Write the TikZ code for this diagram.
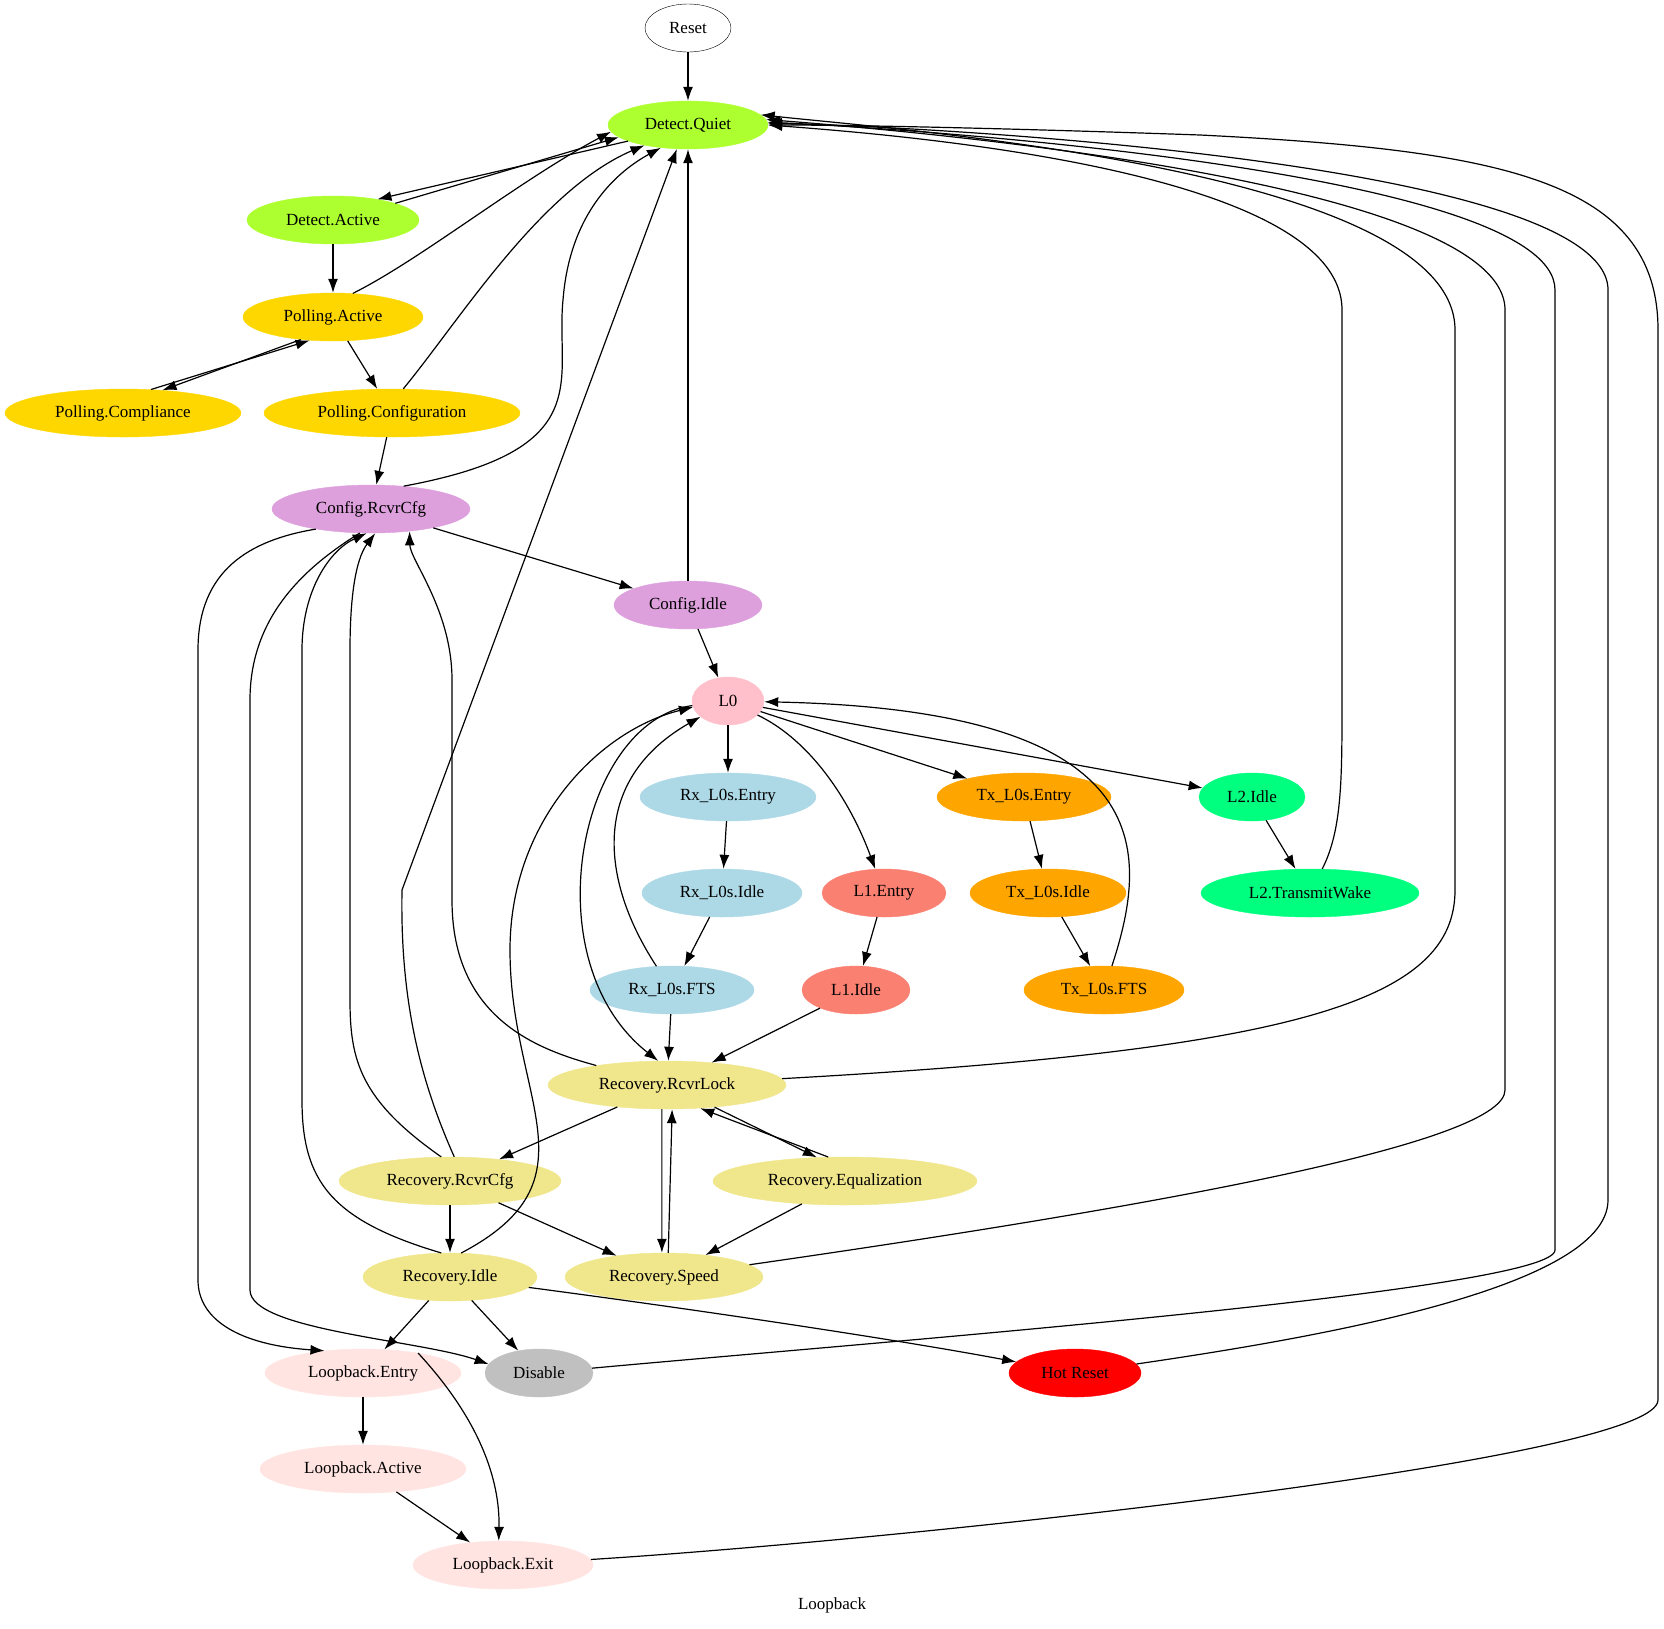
\documentclass[tikz,border=0pt]{standalone}
\usepackage{fontspec}
\setmainfont{Liberation Serif}
\usetikzlibrary{shapes.geometric,arrows.meta}
\definecolor{gy}{HTML}{ADFF2F}
\definecolor{gold}{HTML}{FFD700}
\definecolor{plum}{HTML}{DDA0DD}
\definecolor{pinkc}{HTML}{FFC0CB}
\definecolor{lblue}{HTML}{ADD8E6}
\definecolor{salm}{HTML}{FA8072}
\definecolor{orng}{HTML}{FFA500}
\definecolor{sprg}{HTML}{00FF7F}
\definecolor{khak}{HTML}{F0E68C}
\definecolor{misty}{HTML}{FFE4E1}
\definecolor{grayc}{HTML}{C0C0C0}
\begin{document}
\begin{tikzpicture}[x=1pt,y=-1pt,
  n/.style 2 args={ellipse,draw=#1,fill=#1,minimum width=#2pt,minimum height=48pt,inner sep=0pt,font=\fontsize{17}{20}\selectfont},
  e/.style={-{Latex[length=14pt,width=10pt]},line width=1.2pt}]
\useasboundingbox (0,0) rectangle (1664,1628);
\node[n={white}{86},draw=black] (R) at (688,28) {Reset};
\node[n={gy}{160}] (DQ) at (688,125) {Detect.Quiet};
\node[n={gy}{172}] (DA) at (333,220) {Detect.Active};
\node[n={gold}{180}] (PA) at (333,317) {Polling.Active};
\node[n={gold}{236}] (PC) at (123,413) {Polling.Compliance};
\node[n={gold}{256}] (PF) at (392,413) {Polling.Configuration};
\node[n={plum}{198}] (CR) at (371,509) {Config.RcvrCfg};
\node[n={plum}{148}] (CI) at (688,605) {Config.Idle};
\node[n={pinkc}{72}] (L0) at (728,701) {L0};
\node[n={lblue}{176}] (RxE) at (728,797) {Rx\_L0s.Entry};
\node[n={lblue}{160}] (RxI) at (722,893) {Rx\_L0s.Idle};
\node[n={lblue}{164}] (RxF) at (672,990) {Rx\_L0s.FTS};
\node[n={salm}{124}] (L1E) at (884,893) {L1.Entry};
\node[n={salm}{108}] (L1I) at (856,990) {L1.Idle};
\node[n={orng}{174}] (TxE) at (1024,797) {Tx\_L0s.Entry};
\node[n={orng}{156}] (TxI) at (1048,893) {Tx\_L0s.Idle};
\node[n={orng}{160}] (TxF) at (1104,990) {Tx\_L0s.FTS};
\node[n={sprg}{106}] (L2I) at (1252,797) {L2.Idle};
\node[n={sprg}{218}] (L2W) at (1310,893) {L2.TransmitWake};
\node[n={khak}{238}] (RRL) at (667,1085) {Recovery.RcvrLock};
\node[n={khak}{222}] (RRC) at (450,1181) {Recovery.RcvrCfg};
\node[n={khak}{264}] (RE) at (845,1181) {Recovery.Equalization};
\node[n={khak}{174}] (RI) at (450,1277) {Recovery.Idle};
\node[n={khak}{198}] (RS) at (664,1277) {Recovery.Speed};
\node[n={misty}{196}] (LE) at (363,1373) {Loopback.Entry};
\node[n={grayc}{108}] (DI) at (539,1373) {Disable};
\node[n={red}{132}] (HR) at (1075,1373) {Hot Reset};
\node[n={misty}{206}] (LA) at (363,1469) {Loopback.Active};
\node[n={misty}{180}] (LX) at (503,1565) {Loopback.Exit};
\node[font=\fontsize{17}{20}\selectfont] (cap) at (832,1605) {Loopback};

\draw[e] (R) -- (DQ);
\draw[e] (DQ.195) -- (DA.25);
\draw[e] (DA.15) -- (DQ.190);
\draw[e] (DA) -- (PA);
\draw[e] (PA.50) .. controls (420,260) and (520,180) .. (DQ.185);
\draw[e] (PA.215) -- (PC.30);
\draw[e] (PC.40) -- (PA.225);
\draw[e] (PA) -- (PF);
\draw[e] (PF.65) .. controls (460,320) and (540,190) .. (DQ.205);
\draw[e] (PF) -- (CR);
\draw[e] (CR.35) .. controls (600,450) and (555,380) .. (563,300) .. controls (570,210) and (620,170) .. (DQ.220);
\draw[e] (CR) -- (CI);
\draw[e] (CI) -- (DQ);
\draw[e] (CI) -- (L0);
\draw[e] (L0) -- (RxE);
\draw[e] (L0) .. controls (810,740) and (850,800) .. (L1E);
\draw[e] (L0) -- (TxE);
\draw[e] (L0) -- (L2I);
\draw[e] (RxE) -- (RxI);
\draw[e] (RxI) -- (RxF);
\draw[e] (RxF) -- (RRL);
\draw[e] (RxF) .. controls (600,880) and (590,780) .. (L0);
\draw[e] (L1E) -- (L1I);
\draw[e] (L1I) -- (RRL);
\draw[e] (TxE) -- (TxI);
\draw[e] (TxI) -- (TxF);
\draw[e] (TxF) .. controls (1150,850) and (1160,710) .. (L0);
\draw[e] (L2I) -- (L2W);
\draw[e] (L2W) .. controls (1342,830) and (1342,780) .. (1342,700) -- (1342,310) .. controls (1342,170) and (900,135) .. (DQ.east);
\draw[e] (RRL) .. controls (1300,1050) and (1455,1000) .. (1455,890) -- (1455,330) .. controls (1455,170) and (900,130) .. (DQ.8);
\draw[e] (RRL) .. controls (540,1050) and (452,1020) .. (452,900) -- (452,680) .. controls (452,610) and (410,560) .. (CR.330);
\draw[e] (L0) .. controls (580,720) and (530,960) .. (RRL.110);
\draw[e] (RRL) -- (RRC);
\draw[e] (RRL.335) -- (RE.140);
\draw[e] (RE.125) -- (RRL.325);
\draw[e] (RRL.258) -- (RS.95);
\draw[e] (RS.80) -- (RRL.282);
\draw[e] (RRC.80) .. controls (420,1080) and (400,1000) .. (402,890) -- (DQ.245);
\draw[e] (RRC.110) .. controls (360,1100) and (350,1060) .. (350,1000) -- (350,650) .. controls (350,600) and (355,560) .. (CR.280);
\draw[e] (RRC) -- (RI);
\draw[e] (RRC) -- (RS);
\draw[e] (RE) -- (RS);
\draw[e] (RI.110) .. controls (330,1220) and (302,1180) .. (302,1100) -- (302,650) .. controls (302,590) and (330,550) .. (CR.260);
\draw[e] (RI.65) .. controls (600,1180) and (510,1100) .. (510,950) .. controls (510,820) and (600,730) .. (L0.190);
\draw[e] (RI) -- (LE);
\draw[e] (RI) -- (DI);
\draw[e] (RI) .. controls (700,1310) and (900,1340) .. (HR);
\draw[e] (RS) .. controls (1200,1200) and (1505,1140) .. (1505,1090) -- (1505,310) .. controls (1505,180) and (900,130) .. (DQ.4);
\draw[e] (CR.200) .. controls (250,540) and (198,570) .. (198,650) -- (198,1280) .. controls (198,1320) and (240,1345) .. (LE.150);
\draw[e] (CR.245) .. controls (300,570) and (250,620) .. (250,700) -- (250,1290) .. controls (250,1330) and (420,1340) .. (DI.170);
\draw[e] (DI) .. controls (900,1340) and (1555,1290) .. (1555,1250) -- (1555,290) .. controls (1555,170) and (900,128) .. (DQ.2);
\draw[e] (HR) .. controls (1300,1340) and (1608,1290) .. (1608,1200) -- (1608,290) .. controls (1608,160) and (900,125) .. (DQ.1);
\draw[e] (LE) -- (LA);
\draw[e] (LE.20) .. controls (480,1420) and (500,1480) .. (LX.100);
\draw[e] (LA) -- (LX);
\draw[e] (LX) .. controls (900,1540) and (1658,1460) .. (1658,1400) -- (1658,330) .. controls (1658,180) and (1500,150) .. (1200,135) .. controls (1000,128) and (850,125) .. (DQ.0);
\end{tikzpicture}
\end{document}
